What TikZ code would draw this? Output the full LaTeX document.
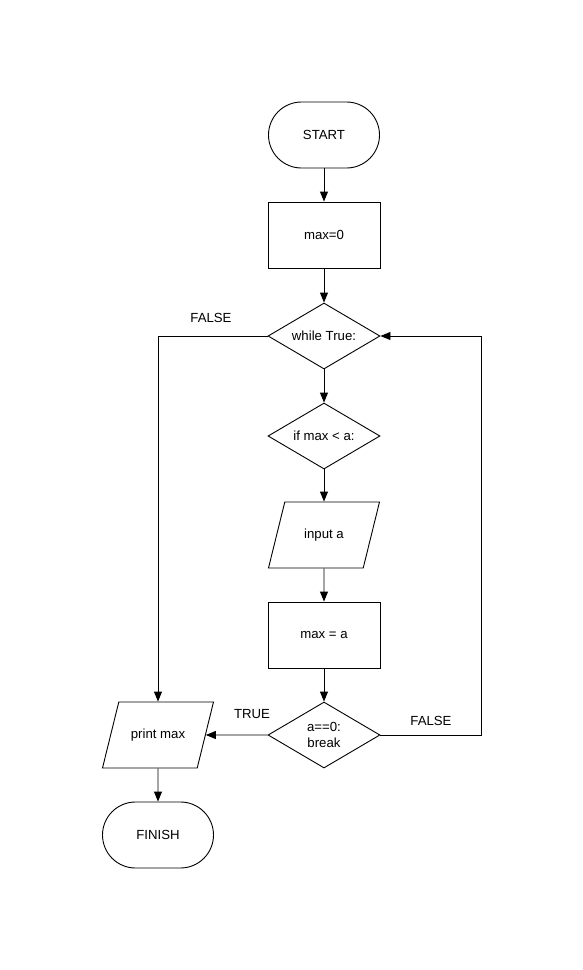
\documentclass[tikz,border=0pt]{standalone}
\usepackage{fontspec}
\setmainfont{Liberation Sans}
\usetikzlibrary{shapes.geometric,arrows.meta}

\begin{document}
\begin{tikzpicture}[x=1pt,y=-1pt,
	font=\fontsize{13.2}{16}\selectfont,
	every node/.style={line width=0.9pt},
	terminal/.style={draw,rounded corners=33pt,minimum width=111pt,minimum height=66pt},
	process/.style={draw,minimum width=112pt,minimum height=66pt},
	decision/.style={draw,diamond,aspect=1.7,minimum width=112pt,minimum height=66pt,inner sep=0pt,align=center},
	io/.style={draw,trapezium,trapezium left angle=76,trapezium right angle=104,trapezium stretches body=true,inner ysep=26.5pt,minimum width=111pt,minimum height=66pt},
	flow/.style={-{Triangle[length=10pt,width=8pt]},line width=0.9pt}]
			\useasboundingbox (0,0) rectangle (582,970);
			\node[terminal] (start) at (324,135) {START};
			\node[process] (maxzero) at (324,235) {max=0};
			\node[decision] (whiletrue) at (324,336) {while True:};
			\node[decision] (ifmax) at (324,436) {if max < a:};
			\node[io] (inputa) at (324,535) {input a};
			\node[process] (maxa) at (324,635) {max = a};
			\node[decision] (brk) at (324,735) {a==0:\\break};
			\node[io] (printmax) at (158,735) {print max};
			\node[terminal] (finish) at (158,835) {FINISH};
			\coordinate (loopback) at (481,735);
			\draw[flow] (start) -- (maxzero);
			\draw[flow] (maxzero) -- (whiletrue);
			\draw[flow] (whiletrue) -- (ifmax);
			\draw[flow] (ifmax) -- (inputa);
			\draw[flow] (inputa) -- (maxa);
			\draw[flow] (maxa) -- (brk);
			\draw[flow] (printmax) -- (finish);
			\draw[flow] (whiletrue.west) -| (printmax.north);
			\draw[flow] (brk.west) -- (printmax.east);
			\draw[flow] (brk.east) -- (loopback) |- (whiletrue.east);
			\node (lfalse) at (211,318) {FALSE};
			\node (ltrue) at (252,714) {TRUE};
			\node (rfalse) at (431,721) {FALSE};
		\end{tikzpicture}
\end{document}
